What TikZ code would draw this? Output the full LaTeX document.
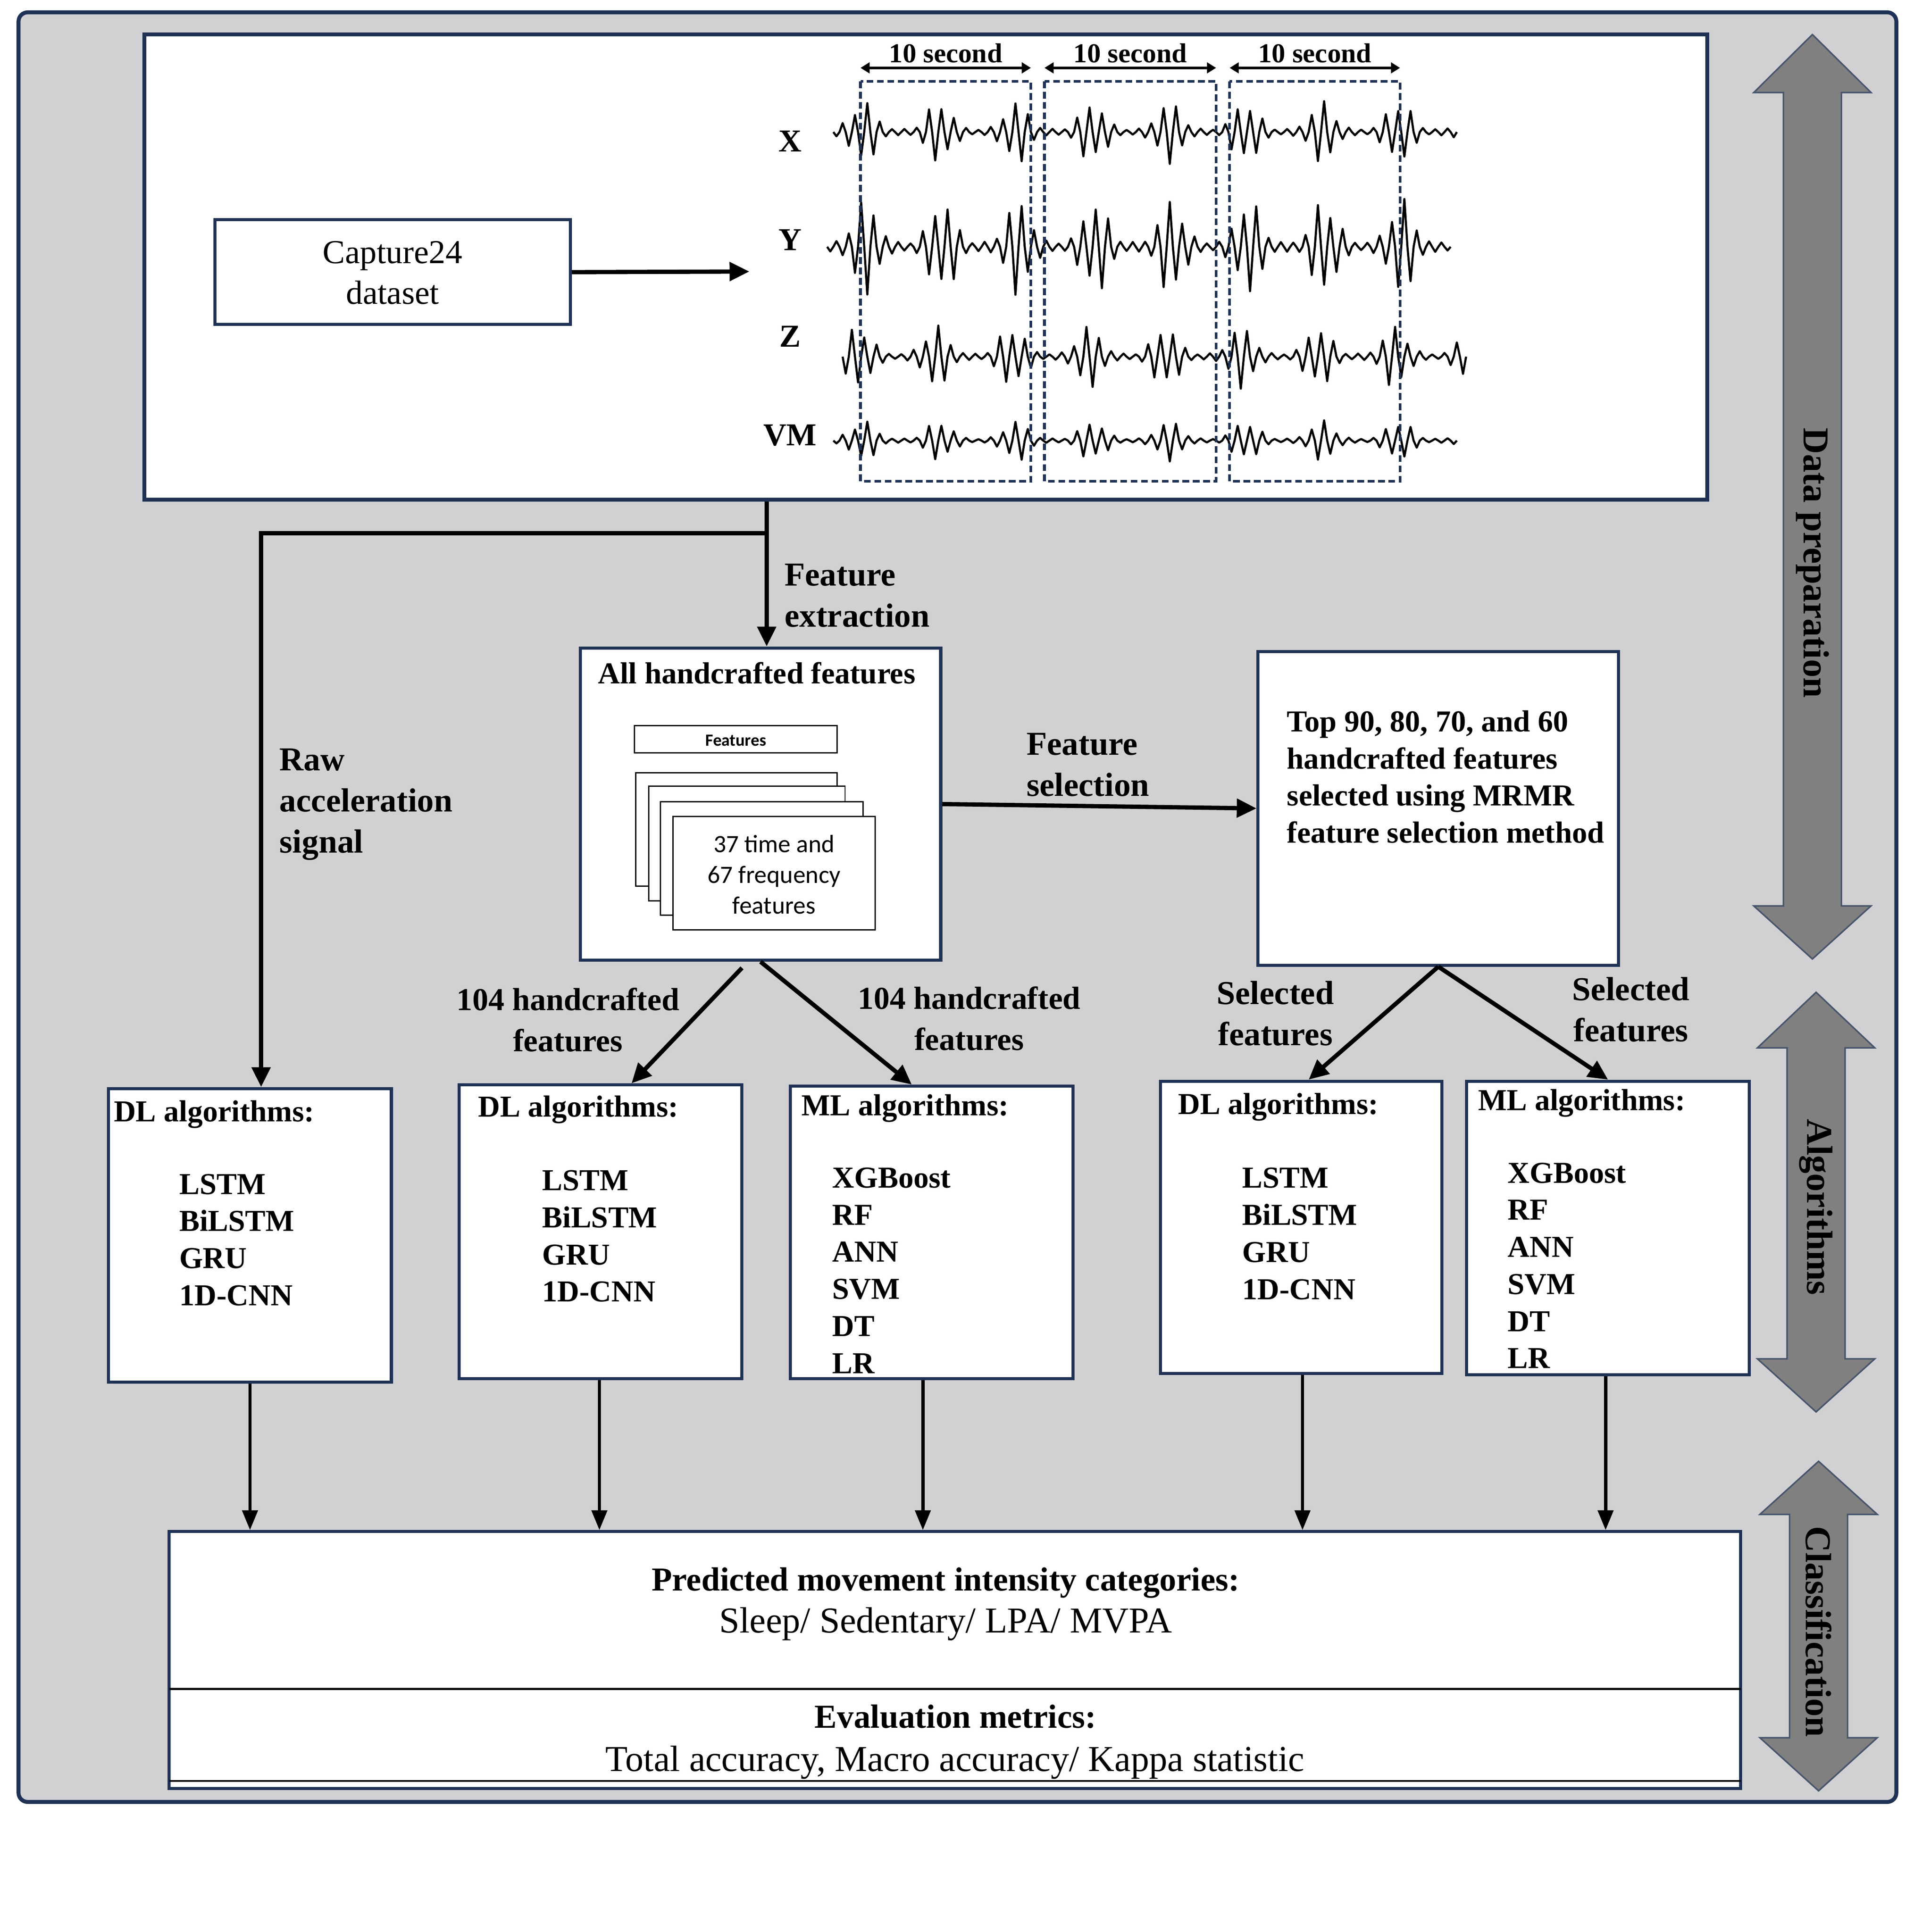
\documentclass[tikz,border=0pt]{standalone}
\usepackage{fontspec}
\setmainfont{Liberation Serif}
\newfontfamily\cardfont{Carlito}
\usetikzlibrary{arrows.meta,fit,positioning}

\definecolor{panelgray}{RGB}{209,208,210}
\definecolor{navy}{RGB}{31,50,85}
\definecolor{phasegray}{RGB}{128,128,128}
\definecolor{phaseedge}{RGB}{70,84,108}

\tikzset{
    panel/.style={draw=navy, line width=1.3pt, fill=panelgray, rounded corners=3pt},
    box/.style={draw=navy, line width=1pt, fill=white, inner sep=0pt},
    card/.style={draw=black, line width=0.4pt, fill=white, inner sep=0pt},
    window/.style={draw=navy, line width=0.9pt, dash pattern=on 2.2pt off 1.2pt},
    span/.style={line width=0.9pt, {Triangle[length=3pt,width=3.5pt]}-{Triangle[length=3pt,width=3.5pt]}},
    flow/.style={line width=1.4pt, -{Triangle[length=6.5pt,width=6pt]}},
    downflow/.style={line width=1.1pt, -{Triangle[length=6.5pt,width=5pt]}},
    signal/.style={line width=0.7pt, line join=round},
    phase/.style={fill=phasegray, draw=phaseedge, line width=0.5pt},
    lbl/.style={font=\bfseries\fontsize{11}{13.5}\selectfont, align=left, inner sep=0pt},
    boxtext/.style={font=\bfseries\fontsize{10}{12.2}\selectfont, align=left, inner sep=0pt},
    sigtext/.style={font=\bfseries\fontsize{10.5}{12}\selectfont, inner sep=0pt},
    headtxt/.style={font=\bfseries\fontsize{11}{13}\selectfont, inner sep=0pt},
    bodytxt/.style={font=\fontsize{12}{14}\selectfont, inner sep=0pt},
    phasetxt/.style={font=\bfseries\fontsize{12}{14}\selectfont, rotate=-90, inner sep=0pt}
}

\begin{document}
\begin{tikzpicture}[x=0.14258mm, y=-0.14258mm]
\fill[white] (0,0) rectangle (1550,1565.4);
\useasboundingbox (0,0) rectangle (1550,1565.4);

% background panel
\draw[panel] (15,10) rectangle (1536,1460);

% phase arrows on the right
\foreach \nm/\cx/\ya/\yb/\yc/\yd/\ty/\txt in {dataprep/1468/28/75/734/777/456/Data preparation,
        algos/1471/804/849/1101/1144/978/Algorithms,
        classif/1473/1184/1227/1408/1451/1322/Classification}{
    \draw[phase] (\cx,\ya) -- ({\cx+47.5},\yb) -- ({\cx+23.5},\yb) -- ({\cx+23.5},\yc)
        -- ({\cx+47.5},\yc) -- (\cx,\yd) -- ({\cx-47.5},\yc) -- ({\cx-23.5},\yc)
        -- ({\cx-23.5},\yb) -- ({\cx-47.5},\yb) -- cycle;
    \node[phasetxt] (\nm) at (\cx,\ty) {\txt};
}

% raw data
\node[box, line width=1.3pt, fit={(117,28) (1383,405)}] (data) {};
\node[box, fit={(174,178) (462,263)}] (capture) {};
\node[align=center, font=\fontsize{11}{13.4}\selectfont, inner sep=0pt] (capturetext) at (318,221) {Capture24\\dataset};
\coordinate (sigin) at (607,220);
\draw[flow] (capture.east) -- (sigin);

% acceleration signals
\foreach \nm/\ly/\yc/\amp/\xa/\ph in {X/123/107/26/675/0, Y/203/200/40/670/2, Z/281/289/26/682.5/-3, VM/361/357/17/675/0}{
    \node[sigtext, anchor=base] (lbl\nm) at (640,\ly) {\nm};
    \draw[signal] plot[domain=0:202, samples=203] ({\xa+2.5*\x},
        {\yc+\amp*sin(90*mod(\x,4))*(0.1+0.9*pow(abs(cos((\xa+2.5*\x-699-\ph)/62*180))+0.0001,4))*(0.82+0.18*sin(37*\x))});
}

% 10 second windows
\foreach \xa/\xb [count=\i] in {697/835, 846/985, 996/1134}{
    \draw[window] (\xa,66) rectangle (\xb,390);
    \coordinate (wl\i) at (\xa,55);
    \coordinate (wr\i) at (\xb,55);
    \draw[span] (wl\i) -- (wr\i) node[midway, above=1.2pt, font=\bfseries\fontsize{9}{10}\selectfont, inner sep=0pt] (sec\i) {10 second};
}

% handcrafted features
\node[box, fit={(470,525) (762,778)}] (allfeat) {};
\node[boxtext, anchor=base] (allfeattitle) at (613,554) {All handcrafted features};
\node[card, fit={(514,588) (678,610)}] (featcap) {};
\node[font=\cardfont\bfseries\fontsize{5.6}{6}\selectfont, inner sep=0pt] (featcaptext) at (596,600) {Features};
\draw[card] (515,626) rectangle (678,718);
\draw[card] (525.5,637) rectangle (684.5,730);
\draw[card] (535,649.5) rectangle (699,741.5);
\node[card, fit={(545,661.5) (709,753.5)}] (frontcard) {};
\node[align=center, font=\cardfont\fontsize{8.2}{10.1}\selectfont, inner sep=0pt] (cardtext) at (627,708.5) {37 time and\\67 frequency\\features};

% selected features
\node[box, fit={(1019,528) (1311,782)}] (topfeat) {};
\node[boxtext, anchor=base west] (topfeattext) at (1042,683) {Top 90, 80, 70, and 60\\handcrafted features\\selected using MRMR\\feature selection method};

% algorithm boxes
\node[box, fit={(88,882) (317,1120)}] (dlraw) {};
\node[box, fit={(372,879) (601,1117)}] (dlall) {};
\node[box, fit={(640,880) (869,1117)}] (mlall) {};
\node[box, fit={(940,876) (1168,1113)}] (dlsel) {};
\node[box, fit={(1188,876) (1417,1114)}] (mlsel) {};

\node[boxtext, anchor=base west] (dlrawtitle) at ([shift={(5,28)}]dlraw.north west) {DL algorithms:};
\node[boxtext, anchor=base west] (dlrawlist) at ([shift={(58,177)}]dlraw.north west) {LSTM\\BiLSTM\\GRU\\1D-CNN};
\node[boxtext, anchor=base west] (dlalltitle) at ([shift={(16,27)}]dlall.north west) {DL algorithms:};
\node[boxtext, anchor=base west] (dlalllist) at ([shift={(68,177)}]dlall.north west) {LSTM\\BiLSTM\\GRU\\1D-CNN};
\node[boxtext, anchor=base west] (mlalltitle) at ([shift={(10,25)}]mlall.north west) {ML algorithms:};
\node[boxtext, anchor=base west] (mlalllist) at ([shift={(35,234)}]mlall.north west) {XGBoost\\RF\\ANN\\SVM\\DT\\LR};
\node[boxtext, anchor=base west] (dlseltitle) at ([shift={(15,28)}]dlsel.north west) {DL algorithms:};
\node[boxtext, anchor=base west] (dlsellist) at ([shift={(67,178)}]dlsel.north west) {LSTM\\BiLSTM\\GRU\\1D-CNN};
\node[boxtext, anchor=base west] (mlseltitle) at ([shift={(10,25)}]mlsel.north west) {ML algorithms:};
\node[boxtext, anchor=base west] (mlsellist) at ([shift={(34,234)}]mlsel.north west) {XGBoost\\RF\\ANN\\SVM\\DT\\LR};

% classification
\node[box, fit={(137,1241) (1410,1449)}] (predict) {};
\draw[line width=0.6pt] (137,1368.5) -- (1410,1368.5);
\draw[line width=0.6pt] (137,1443) -- (1410,1443);
\node[headtxt, anchor=base] (predhead) at (766,1289) {Predicted movement intensity categories:};
\node[bodytxt, anchor=base] (predcats) at (766,1323) {Sleep/ Sedentary/ LPA/ MVPA};
\node[headtxt, anchor=base] (evalhead) at (774,1400) {Evaluation metrics:};
\node[bodytxt, anchor=base] (evalmets) at (773.5,1435) {Total accuracy, Macro accuracy/ Kappa statistic};

% connectors
\coordinate (split) at (621,432);
\coordinate (dlrawin) at ([shift={(9,0)}]dlraw.north);
\draw[flow] (data.south -| split) -- (split |- allfeat.north);
\draw[flow] (split) -- (split -| dlrawin) -- (dlrawin);
\draw[flow] (allfeat.east) -- (topfeat.west);
\draw[flow] ([shift={(-15,5)}]allfeat.south) -- ([shift={(25,0)}]dlall.north);
\draw[flow] (allfeat.south) -- ([shift={(-16,0)}]mlall.north);
\draw[flow] (topfeat.south) -- ([shift={(6,0)}]dlsel.north);
\draw[flow] (topfeat.south) -- (mlsel.north);
\foreach \b/\dx in {dlraw/0, dlall/-1, mlall/-7, dlsel/1, mlsel/-2}
    \draw[downflow] ([shift={(\dx,0)}]\b.south) -- ([shift={(\dx,0)}]\b.south |- predict.north);

% labels
\node[lbl, anchor=base west] (rawlbl) at (226,691) {Raw\\acceleration\\signal};
\node[lbl, anchor=base west] (extlbl) at (635,508) {Feature\\extraction};
\node[lbl, anchor=base west] (sellbl) at (831,645) {Feature\\selection};
\node[lbl, align=center, anchor=base, font=\bfseries\fontsize{10.5}{13.5}\selectfont] (hcdl) at (460,852) {104 handcrafted\\features};
\node[lbl, align=center, anchor=base, font=\bfseries\fontsize{10.5}{13.5}\selectfont] (hcml) at (785,851) {104 handcrafted\\features};
\node[lbl, align=center, anchor=base] (seldl) at (1033,847) {Selected\\features};
\node[lbl, align=center, anchor=base] (selml) at (1321,844) {Selected\\features};
\end{tikzpicture}
\end{document}
